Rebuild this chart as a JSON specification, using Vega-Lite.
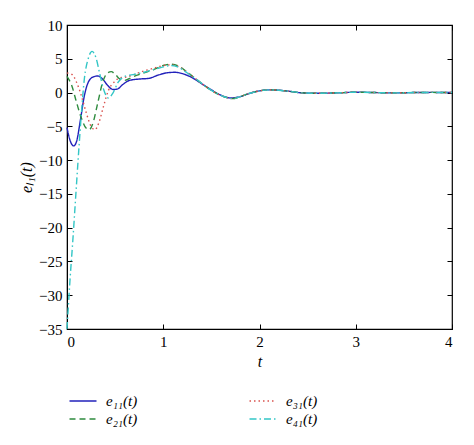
{
  "$schema": "https://vega.github.io/schema/vega-lite/v6.json",
  "autosize": {"type": "none"},
  "padding": {"left": 67, "top": 25, "right": 22, "bottom": 116},
  "width": 385,
  "height": 304,
  "background": "white",
  "config": {
    "view": {"stroke": "black", "strokeWidth": 1.2},
    "axis": {
      "grid": false,
      "domainColor": "black",
      "tickColor": "black",
      "labelColor": "black",
      "titleColor": "black",
      "labelFont": "Liberation Serif",
      "labelFontSize": 15,
      "titleFont": "Liberation Serif",
      "titleFontSize": 16,
      "titleFontStyle": "italic",
      "titleFontWeight": "normal",
      "tickSize": -5
    },
    "legend": {
      "labelFont": "Liberation Serif",
      "labelFontSize": 15,
      "labelFontStyle": "italic",
      "labelColor": "black"
    }
  },
  "data": {"values": [
    {"t":0,"v":-5.2,"s":"e₁₁(t)"},{"t":0.03,"v":-7,"s":"e₁₁(t)"},{"t":0.07,"v":-7.9,"s":"e₁₁(t)"},{"t":0.1,"v":-7.2,"s":"e₁₁(t)"},{"t":0.14,"v":-4,"s":"e₁₁(t)"},{"t":0.18,"v":-0.5,"s":"e₁₁(t)"},{"t":0.22,"v":1.5,"s":"e₁₁(t)"},{"t":0.27,"v":2.3,"s":"e₁₁(t)"},{"t":0.32,"v":2.45,"s":"e₁₁(t)"},{"t":0.37,"v":2,"s":"e₁₁(t)"},{"t":0.42,"v":1.1,"s":"e₁₁(t)"},{"t":0.48,"v":0.45,"s":"e₁₁(t)"},{"t":0.52,"v":0.5,"s":"e₁₁(t)"},{"t":0.58,"v":1.2,"s":"e₁₁(t)"},{"t":0.65,"v":1.8,"s":"e₁₁(t)"},{"t":0.75,"v":2.0,"s":"e₁₁(t)"},{"t":0.85,"v":2.1,"s":"e₁₁(t)"},{"t":0.95,"v":2.6,"s":"e₁₁(t)"},{"t":1.05,"v":2.95,"s":"e₁₁(t)"},{"t":1.12,"v":3.0,"s":"e₁₁(t)"},{"t":1.2,"v":2.8,"s":"e₁₁(t)"},{"t":1.3,"v":2.2,"s":"e₁₁(t)"},{"t":1.4,"v":1.3,"s":"e₁₁(t)"},{"t":1.5,"v":0.4,"s":"e₁₁(t)"},{"t":1.6,"v":-0.4,"s":"e₁₁(t)"},{"t":1.7,"v":-0.8,"s":"e₁₁(t)"},{"t":1.8,"v":-0.6,"s":"e₁₁(t)"},{"t":1.9,"v":-0.1,"s":"e₁₁(t)"},{"t":2.0,"v":0.25,"s":"e₁₁(t)"},{"t":2.1,"v":0.4,"s":"e₁₁(t)"},{"t":2.2,"v":0.35,"s":"e₁₁(t)"},{"t":2.3,"v":0.2,"s":"e₁₁(t)"},{"t":2.45,"v":-0.05,"s":"e₁₁(t)"},{"t":2.6,"v":-0.1,"s":"e₁₁(t)"},{"t":2.8,"v":-0.05,"s":"e₁₁(t)"},{"t":3.0,"v":0.05,"s":"e₁₁(t)"},{"t":3.2,"v":0,"s":"e₁₁(t)"},{"t":3.4,"v":-0.05,"s":"e₁₁(t)"},{"t":3.6,"v":0,"s":"e₁₁(t)"},{"t":3.8,"v":0.02,"s":"e₁₁(t)"},{"t":4.0,"v":0,"s":"e₁₁(t)"},

    {"t":0,"v":2.4,"s":"e₂₁(t)"},{"t":0.05,"v":1.0,"s":"e₂₁(t)"},{"t":0.1,"v":-1.5,"s":"e₂₁(t)"},{"t":0.15,"v":-3.8,"s":"e₂₁(t)"},{"t":0.2,"v":-5.3,"s":"e₂₁(t)"},{"t":0.23,"v":-5.5,"s":"e₂₁(t)"},{"t":0.27,"v":-4.5,"s":"e₂₁(t)"},{"t":0.32,"v":-1.5,"s":"e₂₁(t)"},{"t":0.37,"v":1.5,"s":"e₂₁(t)"},{"t":0.42,"v":2.9,"s":"e₂₁(t)"},{"t":0.46,"v":3.1,"s":"e₂₁(t)"},{"t":0.5,"v":2.7,"s":"e₂₁(t)"},{"t":0.55,"v":2.0,"s":"e₂₁(t)"},{"t":0.6,"v":1.8,"s":"e₂₁(t)"},{"t":0.68,"v":2.3,"s":"e₂₁(t)"},{"t":0.8,"v":2.9,"s":"e₂₁(t)"},{"t":0.9,"v":3.4,"s":"e₂₁(t)"},{"t":1.0,"v":4.0,"s":"e₂₁(t)"},{"t":1.08,"v":4.2,"s":"e₂₁(t)"},{"t":1.15,"v":4.0,"s":"e₂₁(t)"},{"t":1.25,"v":3.0,"s":"e₂₁(t)"},{"t":1.35,"v":1.9,"s":"e₂₁(t)"},{"t":1.45,"v":0.8,"s":"e₂₁(t)"},{"t":1.55,"v":-0.1,"s":"e₂₁(t)"},{"t":1.65,"v":-0.7,"s":"e₂₁(t)"},{"t":1.72,"v":-0.9,"s":"e₂₁(t)"},{"t":1.8,"v":-0.6,"s":"e₂₁(t)"},{"t":1.9,"v":-0.1,"s":"e₂₁(t)"},{"t":2.0,"v":0.25,"s":"e₂₁(t)"},{"t":2.1,"v":0.4,"s":"e₂₁(t)"},{"t":2.2,"v":0.35,"s":"e₂₁(t)"},{"t":2.3,"v":0.2,"s":"e₂₁(t)"},{"t":2.45,"v":-0.05,"s":"e₂₁(t)"},{"t":2.6,"v":-0.1,"s":"e₂₁(t)"},{"t":2.8,"v":-0.05,"s":"e₂₁(t)"},{"t":3.0,"v":0.05,"s":"e₂₁(t)"},{"t":3.2,"v":0,"s":"e₂₁(t)"},{"t":3.4,"v":-0.05,"s":"e₂₁(t)"},{"t":3.6,"v":0,"s":"e₂₁(t)"},{"t":3.8,"v":0.02,"s":"e₂₁(t)"},{"t":4.0,"v":0,"s":"e₂₁(t)"},

    {"t":0,"v":2.9,"s":"e₃₁(t)"},{"t":0.05,"v":2.7,"s":"e₃₁(t)"},{"t":0.1,"v":1.5,"s":"e₃₁(t)"},{"t":0.15,"v":-0.5,"s":"e₃₁(t)"},{"t":0.2,"v":-3.0,"s":"e₃₁(t)"},{"t":0.25,"v":-5.0,"s":"e₃₁(t)"},{"t":0.29,"v":-5.5,"s":"e₃₁(t)"},{"t":0.33,"v":-4.5,"s":"e₃₁(t)"},{"t":0.38,"v":-2.0,"s":"e₃₁(t)"},{"t":0.43,"v":0.3,"s":"e₃₁(t)"},{"t":0.5,"v":1.7,"s":"e₃₁(t)"},{"t":0.55,"v":2.2,"s":"e₃₁(t)"},{"t":0.62,"v":2.3,"s":"e₃₁(t)"},{"t":0.7,"v":2.7,"s":"e₃₁(t)"},{"t":0.8,"v":3.2,"s":"e₃₁(t)"},{"t":0.9,"v":3.6,"s":"e₃₁(t)"},{"t":1.0,"v":4.0,"s":"e₃₁(t)"},{"t":1.08,"v":4.1,"s":"e₃₁(t)"},{"t":1.15,"v":3.9,"s":"e₃₁(t)"},{"t":1.25,"v":3.0,"s":"e₃₁(t)"},{"t":1.35,"v":1.9,"s":"e₃₁(t)"},{"t":1.45,"v":0.8,"s":"e₃₁(t)"},{"t":1.55,"v":-0.1,"s":"e₃₁(t)"},{"t":1.65,"v":-0.7,"s":"e₃₁(t)"},{"t":1.72,"v":-0.9,"s":"e₃₁(t)"},{"t":1.8,"v":-0.6,"s":"e₃₁(t)"},{"t":1.9,"v":-0.1,"s":"e₃₁(t)"},{"t":2.0,"v":0.25,"s":"e₃₁(t)"},{"t":2.1,"v":0.4,"s":"e₃₁(t)"},{"t":2.2,"v":0.35,"s":"e₃₁(t)"},{"t":2.3,"v":0.2,"s":"e₃₁(t)"},{"t":2.45,"v":-0.05,"s":"e₃₁(t)"},{"t":2.6,"v":-0.1,"s":"e₃₁(t)"},{"t":2.8,"v":-0.05,"s":"e₃₁(t)"},{"t":3.0,"v":0.05,"s":"e₃₁(t)"},{"t":3.2,"v":0,"s":"e₃₁(t)"},{"t":3.4,"v":-0.05,"s":"e₃₁(t)"},{"t":3.6,"v":0,"s":"e₃₁(t)"},{"t":3.8,"v":0.02,"s":"e₃₁(t)"},{"t":4.0,"v":0,"s":"e₃₁(t)"},

    {"t":0,"v":-35,"s":"e₄₁(t)"},{"t":0.03,"v":-28,"s":"e₄₁(t)"},{"t":0.06,"v":-22,"s":"e₄₁(t)"},{"t":0.09,"v":-15.5,"s":"e₄₁(t)"},{"t":0.12,"v":-9,"s":"e₄₁(t)"},{"t":0.15,"v":-3,"s":"e₄₁(t)"},{"t":0.18,"v":2,"s":"e₄₁(t)"},{"t":0.22,"v":5,"s":"e₄₁(t)"},{"t":0.26,"v":6.1,"s":"e₄₁(t)"},{"t":0.3,"v":5.2,"s":"e₄₁(t)"},{"t":0.34,"v":2.8,"s":"e₄₁(t)"},{"t":0.38,"v":0.5,"s":"e₄₁(t)"},{"t":0.43,"v":-0.8,"s":"e₄₁(t)"},{"t":0.48,"v":0,"s":"e₄₁(t)"},{"t":0.53,"v":1.5,"s":"e₄₁(t)"},{"t":0.6,"v":2.4,"s":"e₄₁(t)"},{"t":0.7,"v":2.7,"s":"e₄₁(t)"},{"t":0.8,"v":3.0,"s":"e₄₁(t)"},{"t":0.9,"v":3.4,"s":"e₄₁(t)"},{"t":1.0,"v":3.8,"s":"e₄₁(t)"},{"t":1.08,"v":4.0,"s":"e₄₁(t)"},{"t":1.15,"v":3.8,"s":"e₄₁(t)"},{"t":1.25,"v":2.9,"s":"e₄₁(t)"},{"t":1.35,"v":1.9,"s":"e₄₁(t)"},{"t":1.45,"v":0.8,"s":"e₄₁(t)"},{"t":1.55,"v":-0.1,"s":"e₄₁(t)"},{"t":1.65,"v":-0.7,"s":"e₄₁(t)"},{"t":1.72,"v":-0.9,"s":"e₄₁(t)"},{"t":1.8,"v":-0.6,"s":"e₄₁(t)"},{"t":1.9,"v":-0.1,"s":"e₄₁(t)"},{"t":2.0,"v":0.25,"s":"e₄₁(t)"},{"t":2.1,"v":0.4,"s":"e₄₁(t)"},{"t":2.2,"v":0.35,"s":"e₄₁(t)"},{"t":2.3,"v":0.2,"s":"e₄₁(t)"},{"t":2.45,"v":-0.05,"s":"e₄₁(t)"},{"t":2.6,"v":-0.1,"s":"e₄₁(t)"},{"t":2.8,"v":-0.05,"s":"e₄₁(t)"},{"t":3.0,"v":0.05,"s":"e₄₁(t)"},{"t":3.2,"v":0,"s":"e₄₁(t)"},{"t":3.4,"v":-0.05,"s":"e₄₁(t)"},{"t":3.6,"v":0,"s":"e₄₁(t)"},{"t":3.8,"v":0.02,"s":"e₄₁(t)"},{"t":4.0,"v":0,"s":"e₄₁(t)"}
  ]},
  "layer": [
    {
      "mark": {"type": "line", "interpolate": "monotone", "strokeWidth": 1.4},
      "encoding": {
        "x": {"field": "t", "type": "quantitative", "title": "t",
              "scale": {"domain": [0, 4], "nice": false},
              "axis": {"values": [0, 1, 2, 3, 4], "labelPadding": 10, "titlePadding": 4}},
        "y": {"field": "v", "type": "quantitative", "title": "eₗ₁(t)",
              "scale": {"domain": [-35, 10], "nice": false, "zero": false},
              "axis": {"values": [-35, -30, -25, -20, -15, -10, -5, 0, 5, 10], "labelPadding": 10, "titlePadding": 4}},
        "color": {"field": "s", "type": "nominal", "title": null,
                  "scale": {"domain": ["e₁₁(t)", "e₂₁(t)", "e₃₁(t)", "e₄₁(t)"],
                            "range": ["#2222bb", "#2e8b3e", "#d9534f", "#33c6c6"]},
                  "legend": {"orient": "none", "legendX": 6, "legendY": 366, "columns": 2,
                             "columnPadding": 108, "rowPadding": 0, "symbolType": "M-1.5,0H1.5",
                             "symbolSize": 324, "symbolStrokeWidth": 1.4, "labelOffset": 13}},
        "strokeDash": {"field": "s", "type": "nominal", "title": null,
                       "scale": {"domain": ["e₁₁(t)", "e₂₁(t)", "e₃₁(t)", "e₄₁(t)"],
                                 "range": [[1, 0], [6, 4], [1.5, 3], [7, 3, 1.5, 3]]}}
      }
    },
    {
      "mark": {"type": "line", "opacity": 0},
      "encoding": {
        "x": {"field": "t", "type": "quantitative",
              "axis": {"orient": "top", "values": [0, 1, 2, 3, 4], "labels": false, "title": null, "domain": false}},
        "y": {"field": "v", "type": "quantitative",
              "axis": {"orient": "right", "values": [-35, -30, -25, -20, -15, -10, -5, 0, 5, 10], "labels": false, "title": null, "domain": false}}
      }
    }
  ],
  "resolve": {"axis": {"x": "independent", "y": "independent"}}
}
